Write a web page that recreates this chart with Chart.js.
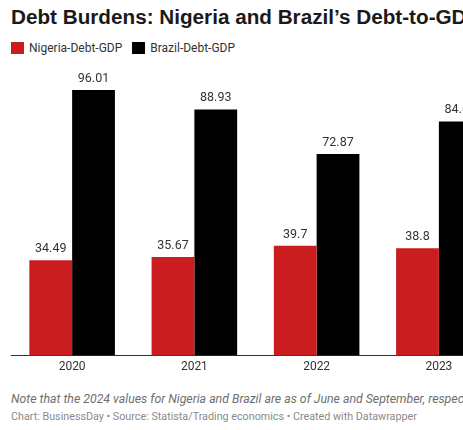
<!DOCTYPE html>
<html>
<head>
<meta charset="utf-8">
<script src="https://cdn.jsdelivr.net/npm/chart.js@4"></script>
<style>
  html, body { margin: 0; padding: 0; background: #fff; overflow: hidden; }
  body { width: 463px; height: 430px; position: relative; font-family: Roboto, "Noto Sans", sans-serif; }
  .wrap { position: absolute; left: 0; top: 0; width: 520px; white-space: nowrap; }
  h1 { position: absolute; left: 11px; top: 5px; margin: 0; font-family: "Liberation Sans", Arial, sans-serif; font-size: 20.7px; font-weight: 700; color: #1a1a1a; }
  .legend { position: absolute; left: 11px; top: 41px; font-size: 12px; color: #333; line-height: 14px; }
  .legend span.item { display: inline-block; margin-right: 10px; }
  .legend i { display: inline-block; width: 13px; height: 12px; vertical-align: -2px; margin-right: 5px; }
  .box { position: absolute; left: 0; top: 36px; width: 520px; height: 342px; }
  .note { position: absolute; left: 11px; top: 392px; font-size: 12.3px; font-style: italic; color: #6f6f6f; }
  .src { position: absolute; left: 11px; top: 410px; font-size: 10.75px; color: #8a8a8a; }
</style>
</head>
<body>
<div class="wrap">
  <h1>Debt Burdens: Nigeria and Brazil’s Debt-to-GDP Ratios</h1>
  <div class="legend" id="legend"></div>
  <div class="box"><canvas id="bars"></canvas></div>
  <div class="note">Note that the 2024 values for Nigeria and Brazil are as of June and September, respectively.</div>
  <div class="src">Chart: BusinessDay • Source: Statista/Trading economics • Created with Datawrapper</div>
</div>
<script>
const years = ["2020", "2021", "2022", "2023"];
const nigeriaDebt = [34.49, 35.67, 39.7, 38.8];
const brazilDebt = [96.01, 88.93, 72.87, 84.67];
const seriesNames = ["Nigeria-Debt-GDP", "Brazil-Debt-GDP"];
const seriesColors = ["#c91d1f", "#000000"];

// legend as html, like datawrapper does
document.getElementById("legend").innerHTML = seriesNames
  .map((n, i) => '<span class="item"><i style="background:' + seriesColors[i] + '"></i>' + n + "</span>")
  .join("");

// value labels on top of the bars
const valueLabels = {
  id: "valueLabels",
  afterDatasetsDraw(chart) {
    const ctx = chart.ctx;
    ctx.save();
    ctx.font = "12.5px Roboto";
    ctx.fillStyle = "#333";
    ctx.textAlign = "center";
    ctx.textBaseline = "bottom";
    chart.data.datasets.forEach((ds, i) => {
      chart.getDatasetMeta(i).data.forEach((bar, j) => {
        ctx.fillText(String(ds.data[j]), bar.x, bar.y - 5);
      });
    });
    ctx.restore();
  }
};

const ctx = document.getElementById("bars");

new Chart(ctx, {
  type: "bar",
  data: {
    labels: years,
    datasets: [
      { label: seriesNames[0], data: nigeriaDebt, backgroundColor: seriesColors[0] },
      { label: seriesNames[1], data: brazilDebt, backgroundColor: seriesColors[1] },
    ],
  },
  options: {
    responsive: true,
    maintainAspectRatio: false,
    animation: false,
    layout: { padding: { left: 11, right: 20, top: 43, bottom: 0 } },
    datasets: {
      bar: { categoryPercentage: 0.7, barPercentage: 1.0 },
    },
    plugins: {
      tooltip: { enabled: false },
      legend: { display: false },
    },
    scales: {
      x: {
        grid: { display: false, drawTicks: false },
        border: { display: true, color: "#333", width: 1 },
        ticks: { color: "#333", font: { family: "Roboto", size: 12 }, padding: 4 },
      },
      y: {
        display: false,
        min: 0,
        max: 100,
      },
    },
  },
  plugins: [valueLabels],
});
</script>
</body>
</html>
